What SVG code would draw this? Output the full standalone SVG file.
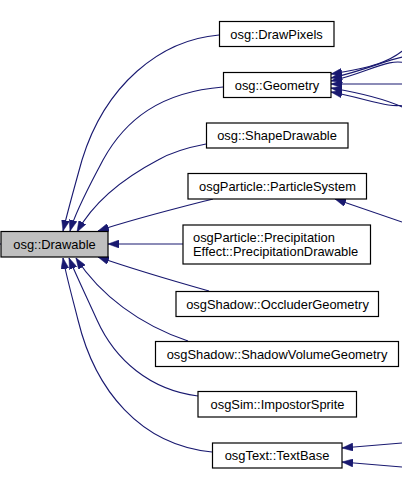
<svg xmlns="http://www.w3.org/2000/svg" width="402" height="483" viewBox="0 0 402 483">
<defs>
<style>
.node rect{fill:#fff;stroke:#000;stroke-width:1.2}
.node.cur rect{fill:#bfbfbf}
.node text{font-family:"Liberation Sans",Arial,sans-serif;font-size:12.9px;fill:#000;text-anchor:middle}
.node text.l{text-anchor:start}
.edges path{fill:none;stroke:#191970;stroke-width:1.1;marker-end:url(#arr)}
</style>
<marker id="arr" viewBox="0 0 11 8" refX="11" refY="4" markerUnits="userSpaceOnUse" markerWidth="11" markerHeight="8" orient="auto">
<path d="M0,0 L11,4 L0,8 z" fill="#191970" stroke="#191970" stroke-width="0.5"/>
</marker>
</defs>
<rect width="402" height="483" fill="#fff"/>
<g class="edges">
<path d="M219,35 C160,40 105,85 82,160 C75,185 68,210 63,231"/>
<path d="M223,87 C160,92 125,120 103,160 C90,185 76,210 70,231"/>
<path d="M206,144 C185,148 170,153 158,160 C120,180 92,205 77,232"/>
<path d="M213,199 C170,210 130,220 98,231"/>
<path d="M183,244 L108,244"/>
<path d="M209,291 C170,280 130,268 98,257"/>
<path d="M188,341 C140,325 100,295 76,258"/>
<path d="M198,396 C150,390 115,360 97,320 C88,300 76,275 69,258"/>
<path d="M212,452 C140,445 95,390 78,320 C73,300 66,275 63,258"/>
<path d="M408,46 C392,62 370,68 331,74"/>
<path d="M408,56 C390,58 368,70 331,78"/>
<path d="M408,64 C390,56 366,74 331,81"/>
<path d="M402,84 L331,84"/>
<path d="M408,110 C390,100 366,94 331,88"/>
<path d="M408,104 C390,110 366,98 331,92"/>
<path d="M402,222 L335,199"/>
<path d="M402,443 L342,448"/>
<path d="M402,467 L342,462"/>
<path d="M0,244 L1.5,244" style="marker-end:none"/>
</g>
<g id="drawable" class="node cur"><rect x="1" y="231.5" width="107" height="25.5"/><text x="54.5" y="248.5">osg::Drawable</text></g>
<g id="drawpixels" class="node"><rect x="219.5" y="21.5" width="114.5" height="25"/><text x="276.5" y="38.5">osg::DrawPixels</text></g>
<g id="geometry" class="node"><rect x="223.5" y="72.5" width="107.5" height="25"/><text x="277" y="89.5">osg::Geometry</text></g>
<g id="shapedrawable" class="node"><rect x="206.5" y="123" width="141.5" height="25"/><text x="277" y="140">osg::ShapeDrawable</text></g>
<g id="particlesystem" class="node"><rect x="188" y="173.5" width="178.5" height="25.5"/><text x="277.5" y="191">osgParticle::ParticleSystem</text></g>
<g id="precipitation" class="node"><rect x="183" y="225" width="187.5" height="39"/><text class="l" x="193" y="241.5">osgParticle::Precipitation</text><text class="l" x="193" y="255.5">Effect::PrecipitationDrawable</text></g>
<g id="occluder" class="node"><rect x="176" y="291.5" width="202.5" height="25"/><text x="277.5" y="308.5">osgShadow::OccluderGeometry</text></g>
<g id="shadowvolume" class="node"><rect x="155.5" y="341.5" width="243" height="25"/><text x="277" y="358.5">osgShadow::ShadowVolumeGeometry</text></g>
<g id="impostorsprite" class="node"><rect x="198" y="391.5" width="158.5" height="25.5"/><text x="277.5" y="408.5">osgSim::ImpostorSprite</text></g>
<g id="textbase" class="node"><rect x="212.5" y="443" width="129.5" height="25"/><text x="277" y="460">osgText::TextBase</text></g>
</svg>
